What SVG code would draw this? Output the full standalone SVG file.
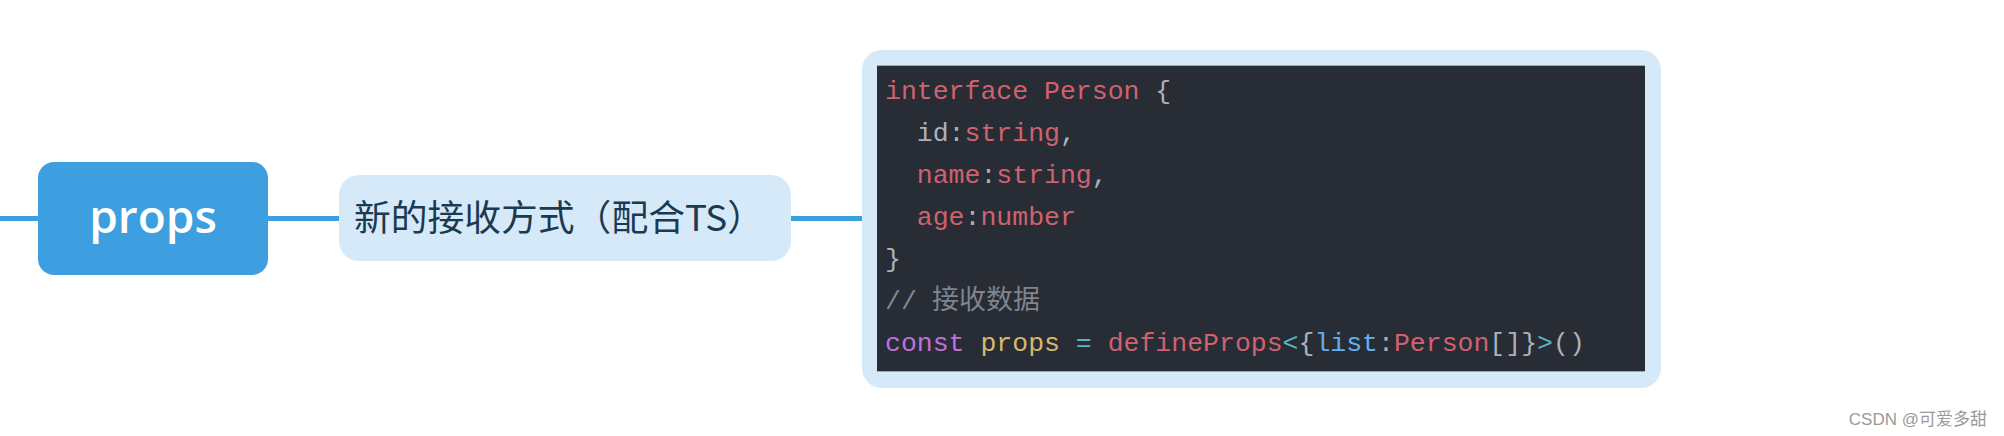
<svg xmlns="http://www.w3.org/2000/svg" width="2004" height="436" viewBox="0 0 2004 436">
<style>
.conn{stroke:#3e9fe0;stroke-width:5;fill:none}
.code{font-family:"Liberation Mono","DejaVu Sans Mono","Noto Sans CJK SC",monospace;font-size:26.5px;white-space:pre}
.r{fill:#d0616f}.g{fill:#abb2bf}.c{fill:#7f848e}.p{fill:#c070d6}.y{fill:#d8b86c}.cy{fill:#56b6c2}.b{fill:#61afef}
.cjk{font-family:"Noto Sans CJK SC",sans-serif;font-size:27px}
</style>
<rect width="2004" height="436" fill="#ffffff"/>
<g id="connectors">
<line class="conn" x1="0" y1="218.5" x2="40" y2="218.5"/>
<line class="conn" x1="266" y1="218.5" x2="341" y2="218.5"/>
<line class="conn" x1="789" y1="218.5" x2="864" y2="218.5"/>
</g>
<g id="node-props">
<rect x="38" y="162" width="230" height="113" rx="16" fill="#3e9fe0"/>
<text x="153" y="233" text-anchor="middle" font-family="'Open Sans','Noto Sans',sans-serif" font-weight="600" font-size="46" fill="#ffffff">props</text>
</g>
<g id="node-ts">
<rect x="339" y="175" width="452" height="86" rx="20" fill="#d6e9f8"/>
<text x="354" y="231" font-family="'Noto Sans CJK SC','Noto Sans',sans-serif" font-size="36" fill="#1a3a52" textLength="410" lengthAdjust="spacingAndGlyphs">新的接收方式（配合TS）</text>
</g>
<g id="node-code">
<rect x="862" y="50" width="799" height="338" rx="20" fill="#d6e9f8"/>
<rect x="877" y="65" width="768" height="307" fill="#282c34"/>
<line x1="877" y1="65.5" x2="1645" y2="65.5" stroke="#9aa7b4" stroke-width="1"/>
<line x1="877" y1="371.5" x2="1645" y2="371.5" stroke="#9aa7b4" stroke-width="1"/>
<text class="code" x="885" y="99"><tspan class="r">interface Person </tspan><tspan class="g">{</tspan></text>
<text class="code" x="885" y="141"><tspan class="g">  id:</tspan><tspan class="r">string</tspan><tspan class="g">,</tspan></text>
<text class="code" x="885" y="183"><tspan class="r">  name</tspan><tspan class="g">:</tspan><tspan class="r">string</tspan><tspan class="g">,</tspan></text>
<text class="code" x="885" y="225"><tspan class="r">  age</tspan><tspan class="g">:</tspan><tspan class="r">number</tspan></text>
<text class="code" x="885" y="267"><tspan class="g">}</tspan></text>
<text class="code" x="885" y="309"><tspan class="c">// </tspan><tspan class="c cjk" x="932">接收数据</tspan></text>
<text class="code" x="885" y="351"><tspan class="p">const</tspan><tspan class="g"> </tspan><tspan class="y">props</tspan><tspan class="g"> </tspan><tspan class="cy">=</tspan><tspan class="g"> </tspan><tspan class="r">defineProps</tspan><tspan class="cy">&lt;</tspan><tspan class="g">{</tspan><tspan class="b">list</tspan><tspan class="g">:</tspan><tspan class="r">Person</tspan><tspan class="g">[]}</tspan><tspan class="cy">&gt;</tspan><tspan class="g">()</tspan></text>
</g>
<text x="1987" y="425" text-anchor="end" font-family="'Liberation Sans','Noto Sans CJK SC',sans-serif" font-size="17" fill="#9a9a9a">CSDN @可爱多甜</text>
</svg>
